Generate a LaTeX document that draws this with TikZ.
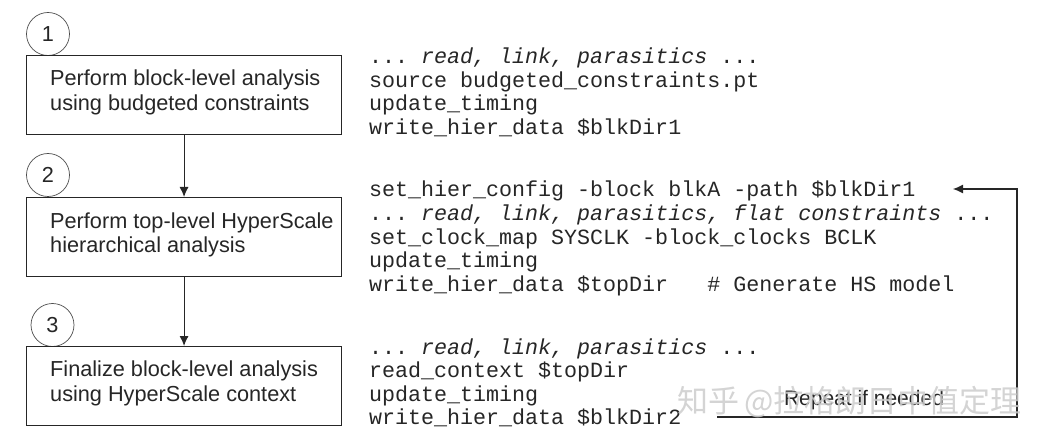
\documentclass[tikz,border=0pt]{standalone}
\usepackage{fontspec}
\setmainfont{Liberation Sans}
\setmonofont{Liberation Mono}
\newfontfamily\cjk{Noto Sans CJK SC}
\usetikzlibrary{arrows.meta}
\begin{document}
\begin{tikzpicture}[x=1pt,y=-1pt,
  stepbox/.style={draw=black!85, line width=1.1pt, fill=white, anchor=north west,
    minimum width=315pt, minimum height=79pt, inner sep=0pt},
  boxtext/.style={anchor=west, inner sep=0pt, align=left, text=black!85,
    font=\fontsize{21.7}{24.6}\selectfont},
  numcirc/.style={circle, draw=black!70, line width=0.7pt, minimum size=43pt, inner sep=0pt,
    text=black!85, font=\fontsize{21.7}{24}\selectfont},
  codeline/.style={anchor=base west, inner sep=0pt, text=black!85,
    font=\ttfamily\fontsize{21.67}{23.5}\selectfont},
  flow/.style={draw=black!85, line width=1.1pt, -{Latex[length=10pt,width=9pt]}},
  loopline/.style={draw=black!85, line width=1.1pt, -{Latex[length=10pt,width=9pt]}},
]
\useasboundingbox (0,0) rectangle (1046,446);

% circles (behind boxes)
\node[numcirc] (c1) at (48,34) {1};
\node[numcirc] (c2) at (48,175) {2};
\node[numcirc] (c3) at (52.5,325) {3};

% boxes
\node[stepbox] (b1) at (26,55) {};
\node[stepbox] (b2) at (26,197) {};
\node[stepbox] (b3) at (26,346) {};
\node[boxtext] (t1) at ([xshift=24pt,yshift=2.5pt]b1.west) {Perform block-level analysis\\using budgeted constraints};
\node[boxtext] (t2) at ([xshift=24pt,yshift=2pt]b2.west) {Perform top-level HyperScale\\hierarchical analysis};
\node[boxtext] (t3) at ([xshift=24pt,yshift=2.5pt]b3.west) {Finalize block-level analysis\\using HyperScale context};

\draw[flow] (b1.south) -- (b2.north);
\draw[flow] (b2.south) -- (b3.north);

% code group 1
\node[codeline] (g1a) at (369,64) {... \textit{read, link, parasitics} ...};
\node[codeline] (g1b) at (369,87.5) {source budgeted\_constraints.pt};
\node[codeline] (g1c) at (369,111) {update\_timing};
\node[codeline] (g1d) at (369,134.5) {write\_hier\_data \$blkDir1};

% code group 2
\node[codeline] (g2a) at (369,197) {set\_hier\_config -block blkA -path \$blkDir1};
\node[codeline] (g2b) at (369,220.5) {... \textit{read, link, parasitics, flat constraints} ...};
\node[codeline] (g2c) at (369,244) {set\_clock\_map SYSCLK -block\_clocks BCLK};
\node[codeline] (g2d) at (369,267.5) {update\_timing};
\node[codeline] (g2e) at (369,291) {write\_hier\_data \$topDir\ \ \ \# Generate HS model};

% code group 3
\node[codeline] (g3a) at (369,354) {... \textit{read, link, parasitics} ...};
\node[codeline] (g3b) at (369,377.5) {read\_context \$topDir};
\node[codeline] (g3c) at (369,401) {update\_timing};
\node[codeline] (g3d) at (369,424.5) {write\_hier\_data \$blkDir2};

% repeat loop
\coordinate (rs) at (717,417);
\coordinate (rc) at (1017,417);
\coordinate (rt) at (953,189);
\draw[loopline] (rs) -- (rc) |- (rt);
\node[anchor=base, inner sep=0pt, text=black!85, font=\fontsize{21}{21}\selectfont]
  (rlab) at (864,405) {Repeat if needed};

% watermark
\node[anchor=west, inner sep=0pt, text=gray!40, opacity=0.85,
  font=\cjk\fontsize{31}{31}\selectfont] (wm) at (677,402) {知乎\hspace{5pt}@拉格朗日中值定理};
\end{tikzpicture}
\end{document}
